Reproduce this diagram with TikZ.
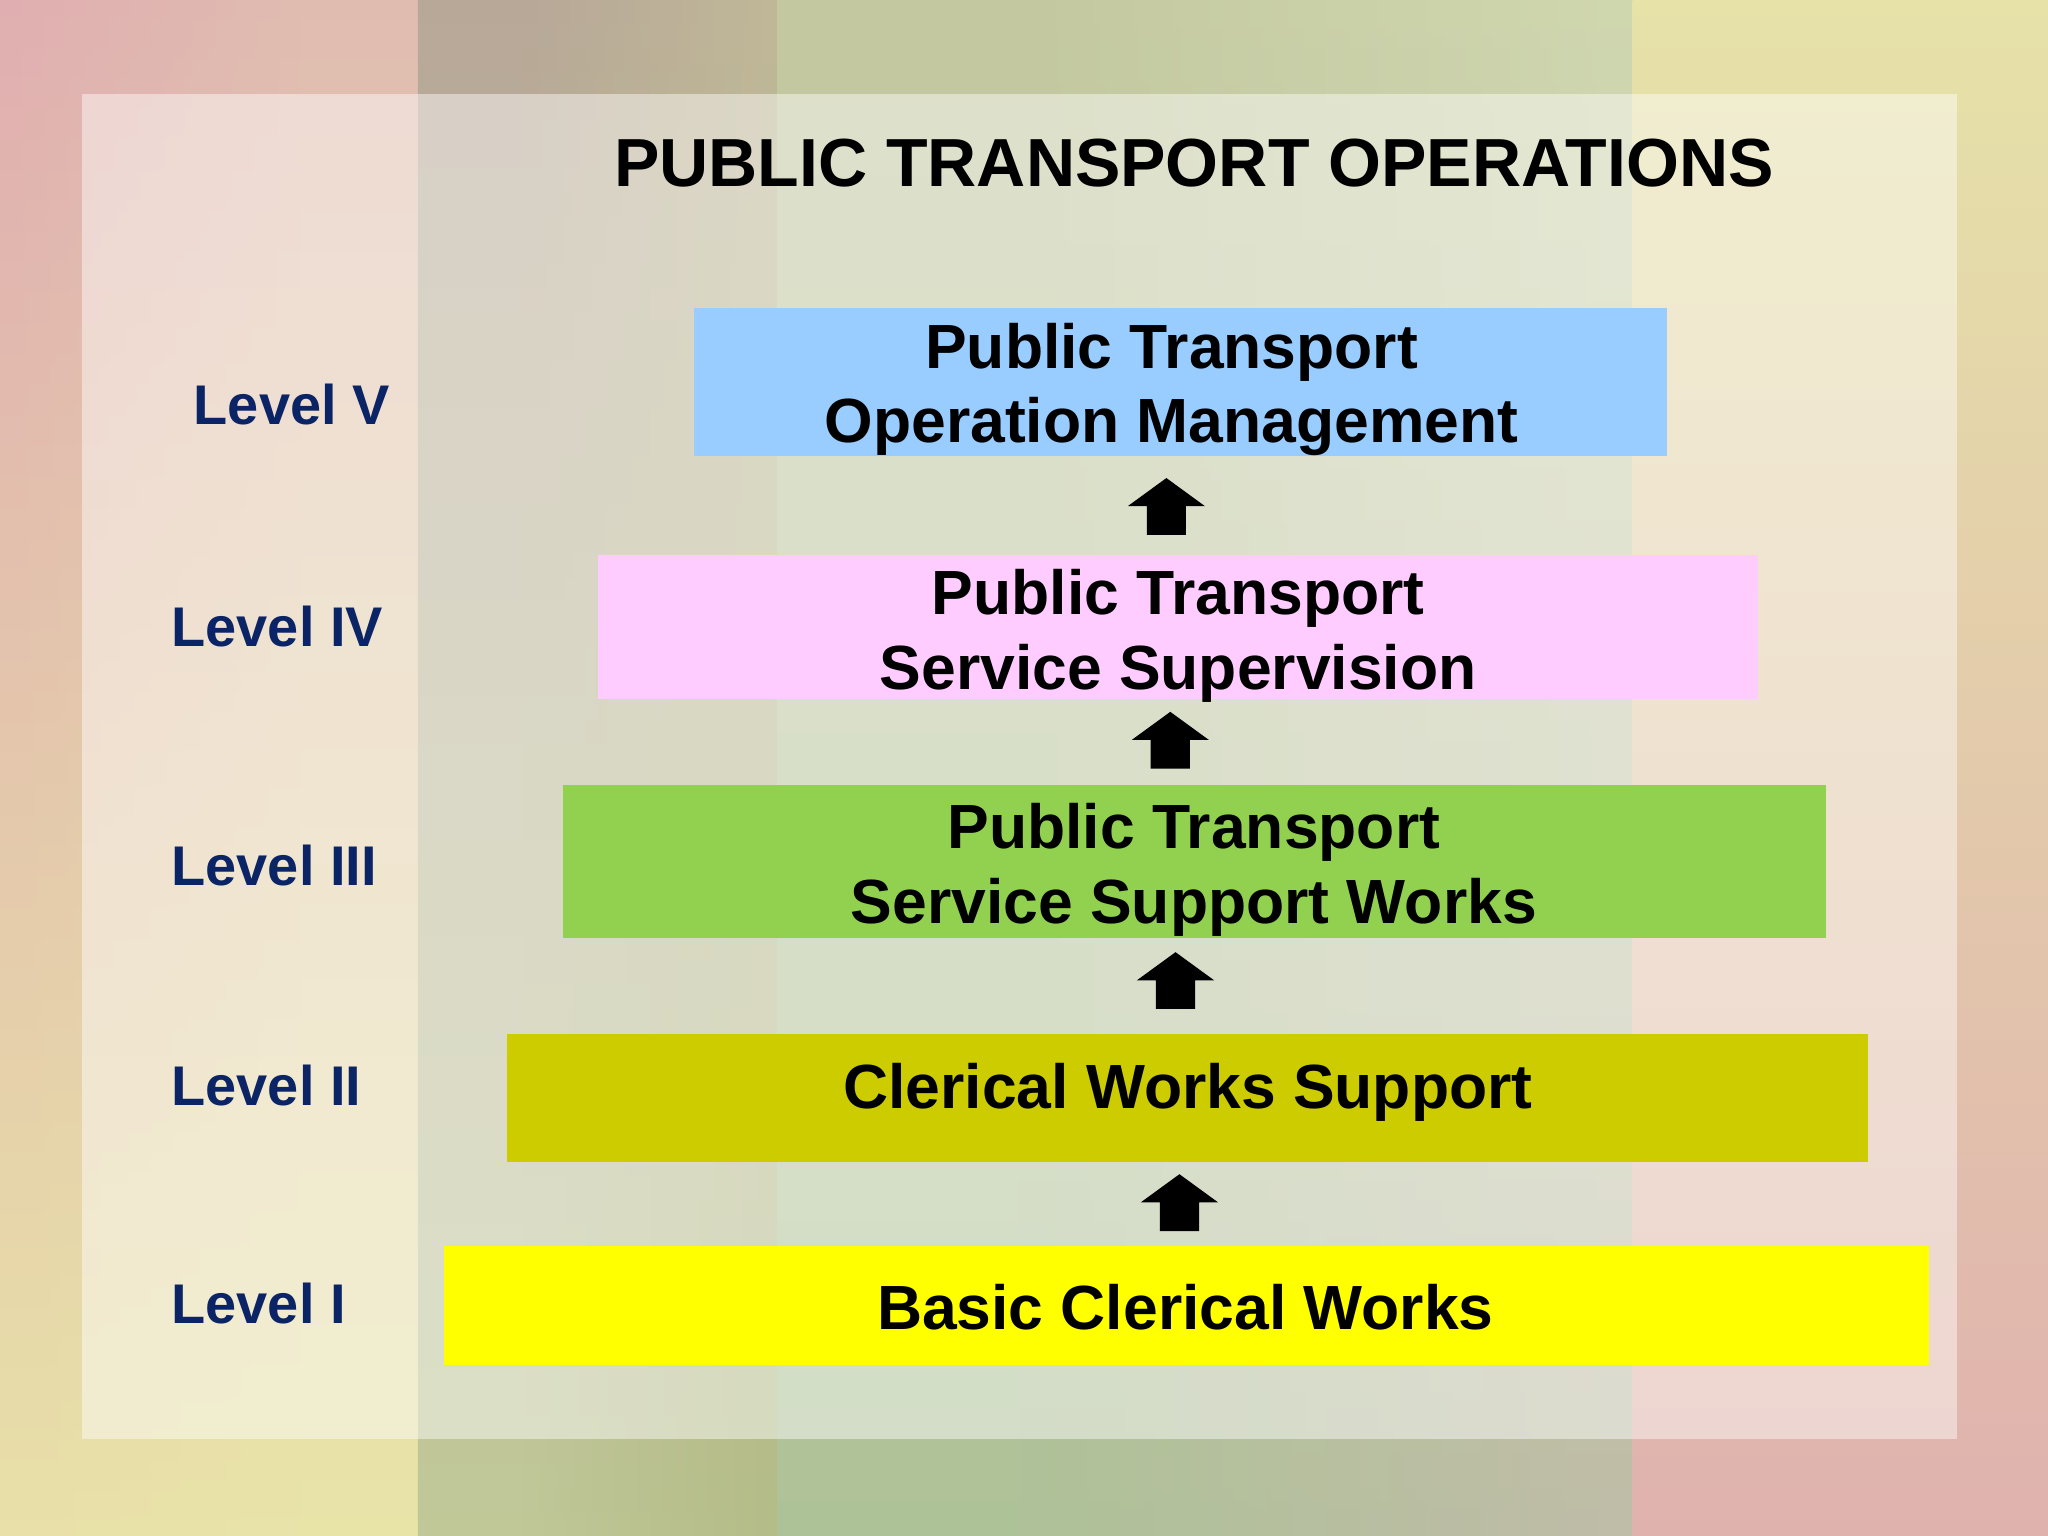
\documentclass[tikz,border=0pt]{standalone}
\usepackage{fontspec}
\setmainfont{Liberation Sans}
\usetikzlibrary{fadings}
\definecolor{lv5}{HTML}{99CCFF}
\definecolor{lv4}{HTML}{FFCCFF}
\definecolor{lv3}{HTML}{92D050}
\definecolor{lv2}{HTML}{CCCC00}
\definecolor{lv1}{HTML}{FFFF00}
\definecolor{lvlblue}{HTML}{0A2466}
% background band colours (top, middle, bottom)
\definecolor{aT}{HTML}{E0AEB0}\definecolor{aM}{HTML}{E0C6B2}\definecolor{aB}{HTML}{E8E0A8}
\definecolor{bT}{HTML}{E0BCB0}\definecolor{bM}{HTML}{E2CCB4}\definecolor{bB}{HTML}{E8E4A8}
\definecolor{cT}{HTML}{B8A898}\definecolor{cM}{HTML}{BCB49A}\definecolor{cB}{HTML}{C0C898}
\definecolor{dT}{HTML}{C0B898}\definecolor{dM}{HTML}{BCBA96}\definecolor{dB}{HTML}{B4BC88}
\definecolor{eT}{HTML}{C4C8A0}\definecolor{eM}{HTML}{C2C69E}\definecolor{eB}{HTML}{AEC298}
\definecolor{fT}{HTML}{D0D8B0}\definecolor{fM}{HTML}{CACEA8}\definecolor{fB}{HTML}{C0BCA8}
\definecolor{gT}{HTML}{E6E2A8}\definecolor{gM}{HTML}{E2D2A8}\definecolor{gB}{HTML}{E0B2AE}
\begin{document}
\begin{tikzpicture}[x=0.5pt,y=-0.5pt,
  box/.style={rectangle, inner sep=0pt, draw=none},
  boxtext/.style={inner sep=0pt, align=center, font=\fontsize{23.9}{28.5}\selectfont\bfseries, text=black},
  lvl/.style={anchor=west, inner sep=0pt, font=\fontsize{21.4}{25}\selectfont\bfseries, text=lvlblue},
  blockarrow/.style={fill=black, draw=none}]
\useasboundingbox (0,0) rectangle (1568,1176);
% background bands
\shade[top color=bT, middle color=bM, bottom color=bB] (0,0) rectangle (320,1176);
\shade[top color=aT, middle color=aM, bottom color=aB, path fading=east] (0,0) rectangle (230,1176);
\shade[top color=cT, middle color=cM, bottom color=cB] (320,0) rectangle (595,1176);
\shade[top color=dT, middle color=dM, bottom color=dB, path fading=west] (400,0) rectangle (595,1176);
\shade[top color=eT, middle color=eM, bottom color=eB] (595,0) rectangle (1250,1176);
\shade[top color=fT, middle color=fM, bottom color=fB, path fading=west] (780,0) rectangle (1250,1176);
\shade[top color=gT, middle color=gM, bottom color=gB] (1250,0) rectangle (1568,1176);
% translucent panel
\fill[white, opacity=0.45] (63,72) rectangle (1498,1102);
% title
\node[inner sep=0pt, font=\fontsize{26.05}{30}\selectfont\bfseries] (title) at (914,125) {PUBLIC TRANSPORT OPERATIONS};
% boxes
\node[box, fill=lv5, minimum width=372.5pt, minimum height=56.5pt] (b5) at (903.5,292.5) {};
\node[box, fill=lv4, minimum width=444pt, minimum height=55pt] (b4) at (902,480) {};
\node[box, fill=lv3, minimum width=483.5pt, minimum height=58.5pt] (b3) at (914.5,659.5) {};
\node[box, fill=lv2, minimum width=521pt, minimum height=49pt] (b2) at (909,841) {};
\node[box, fill=lv1, minimum width=568.5pt, minimum height=45.5pt] (b1) at (908.5,999.5) {};
% box texts
\node[boxtext] (t5) at (897,298) {Public Transport\\Operation Management};
\node[boxtext] (t4) at (902,486.7) {Public Transport\\Service Supervision};
\node[boxtext] (t3) at (914,666) {Public Transport\\Service Support Works};
\node[boxtext] (t2) at (909.5,836.7) {Clerical Works Support};
\node[boxtext] (t1) at (907.5,1001) {Basic Clerical Works};
% level labels
\node[lvl] (l5) at (148,310) {Level V};
\node[lvl] (l4) at (131,480) {Level IV};
\node[lvl] (l3) at (131,663) {Level III};
\node[lvl] (l2) at (131,831) {Level II};
\node[lvl] (l1) at (131,998) {Level I};
% arrows
\coordinate (a4) at (893,366);
\coordinate (a3) at (896,545);
\coordinate (a2) at (900,729);
\coordinate (a1) at (903,899);
\foreach \a in {a1,a2,a3,a4}{
  \fill[blockarrow] (\a) -- ++(29.5,21.5) -- ++(-14.5,0) -- ++(0,22) -- ++(-30,0) -- ++(0,-22) -- ++(-14.5,0) -- cycle;
}
\end{tikzpicture}
\end{document}
